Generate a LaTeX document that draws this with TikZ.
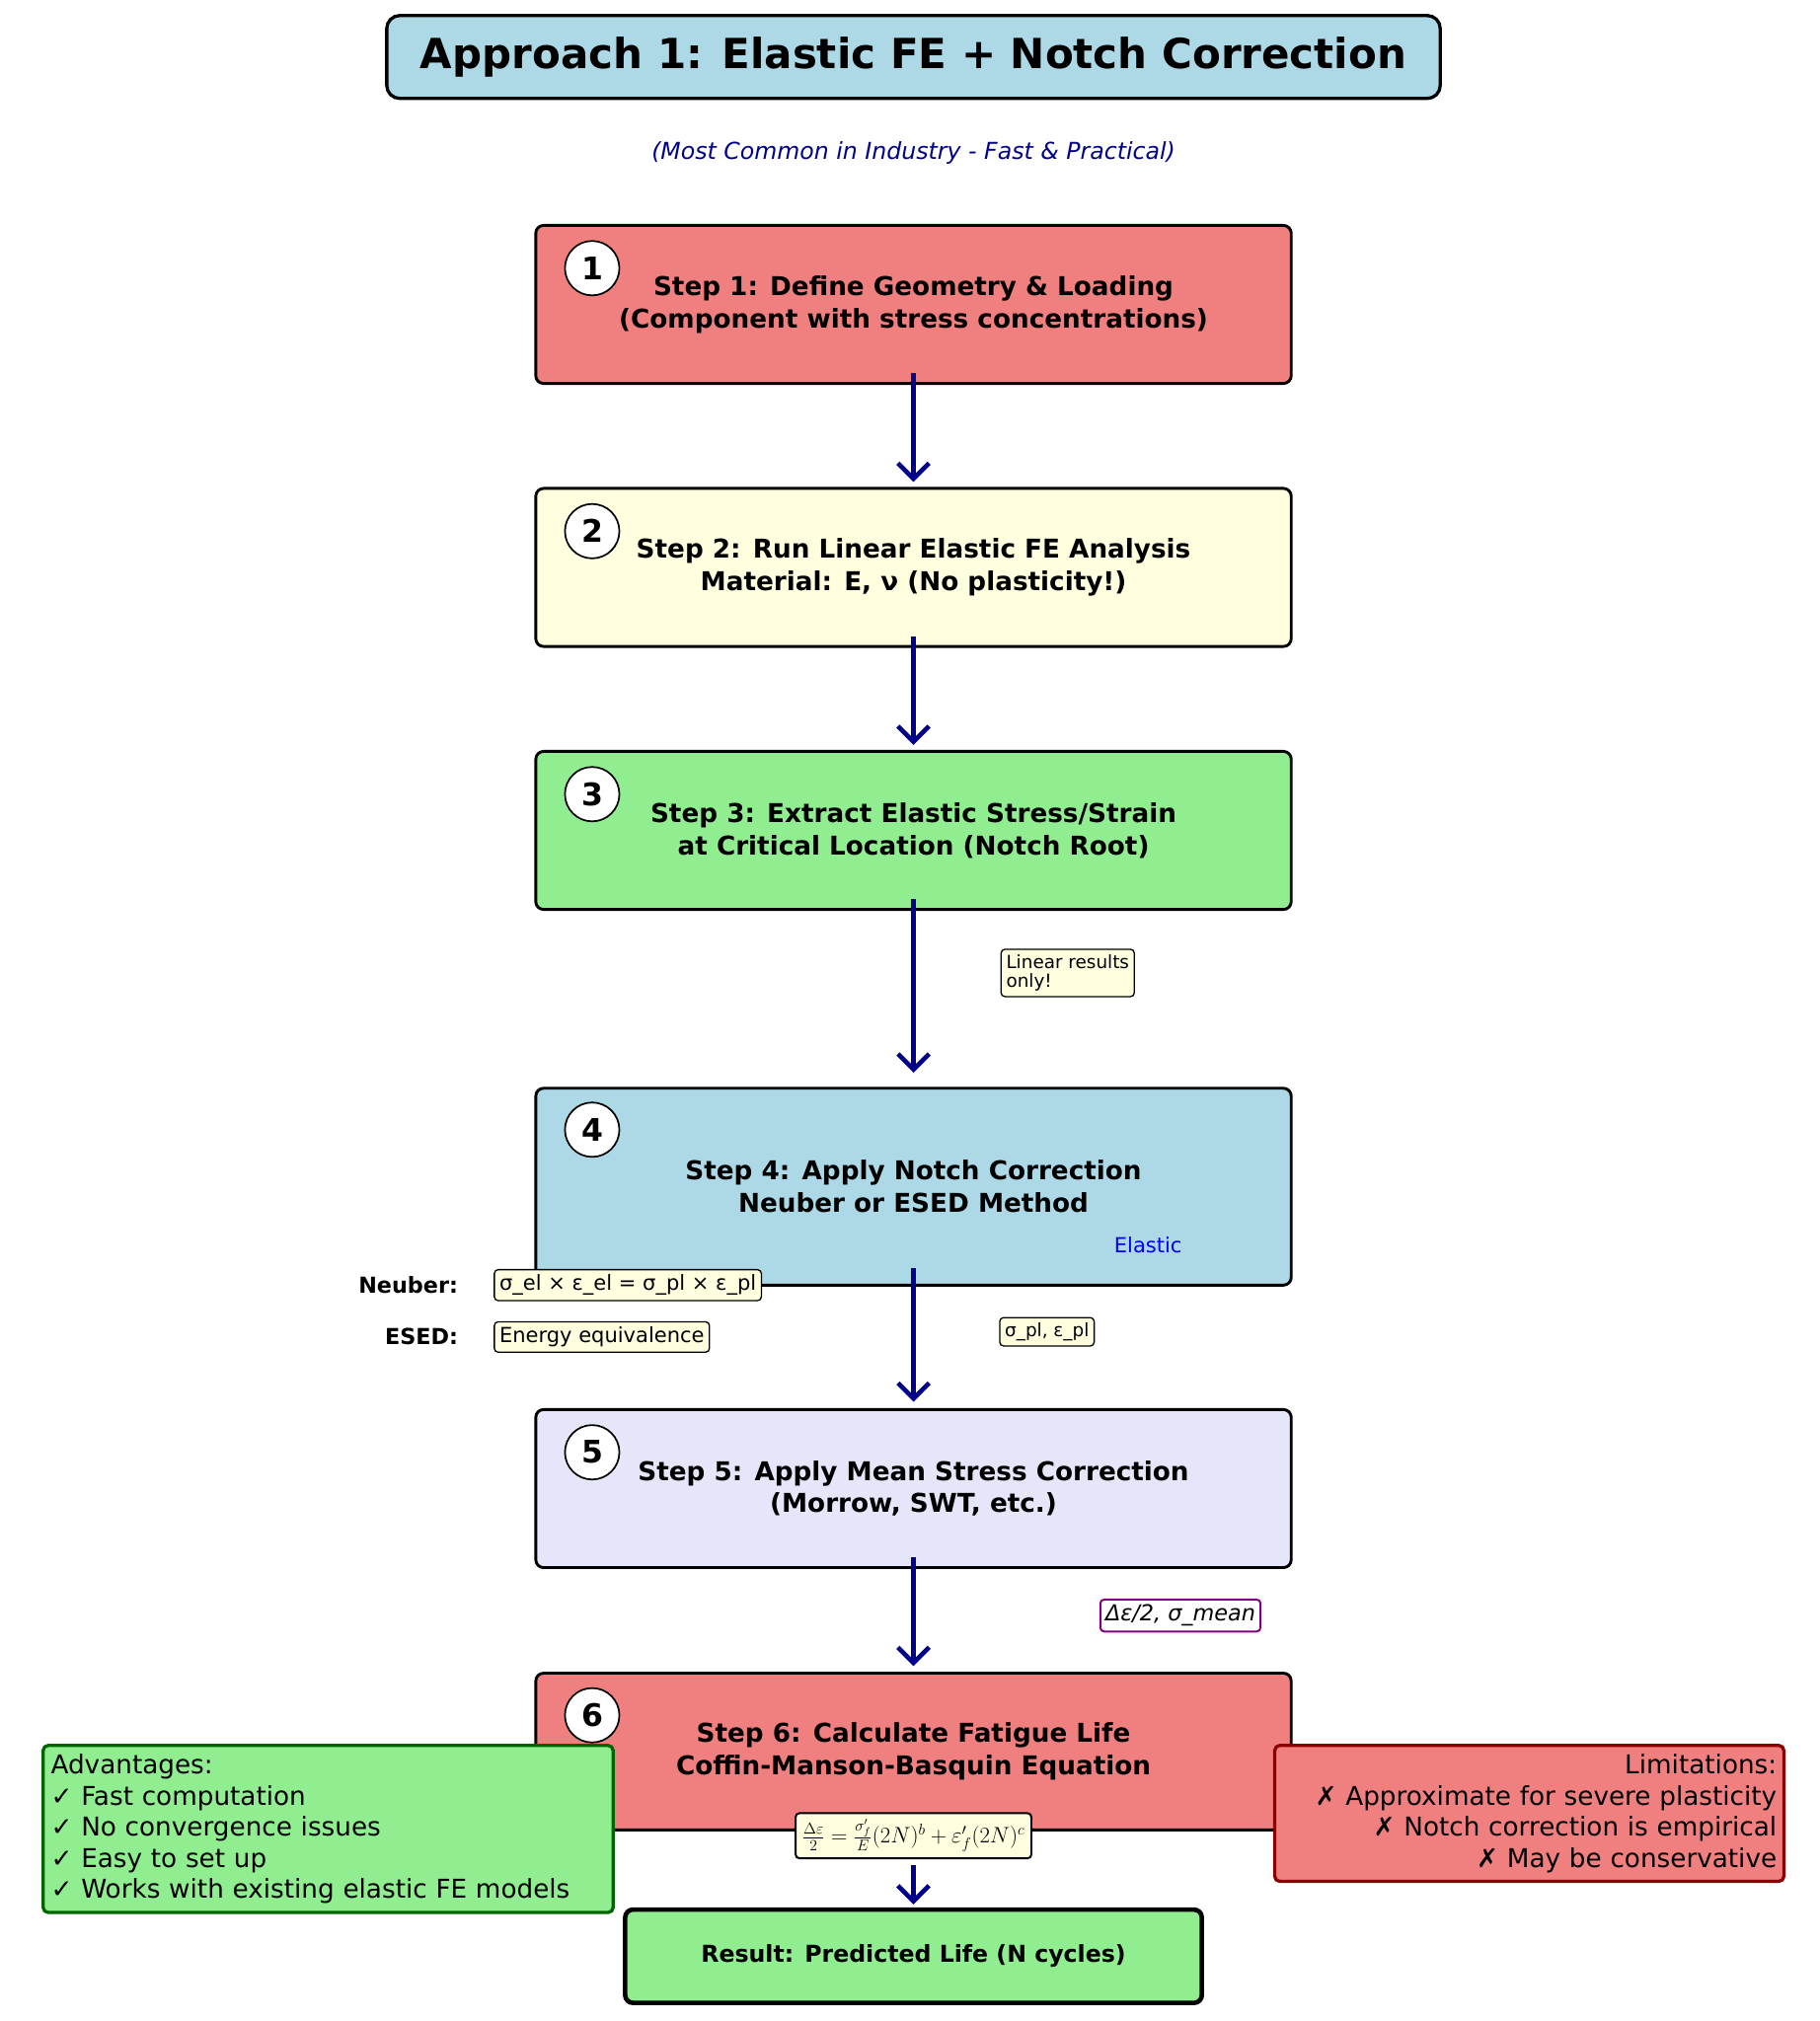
\documentclass[tikz,border=0pt]{standalone}
\usepackage{fontspec}
\setmainfont{DejaVu Sans}
\usetikzlibrary{arrows.meta}
\definecolor{lcoral}{RGB}{240,128,128}
\definecolor{lyellow}{RGB}{255,255,224}
\definecolor{lgreen}{RGB}{144,238,144}
\definecolor{lblue}{RGB}{173,216,230}
\definecolor{lav}{RGB}{230,230,250}
\definecolor{navyc}{RGB}{0,0,139}
\definecolor{dgreen}{RGB}{0,100,0}
\definecolor{dred}{RGB}{139,0,0}
\definecolor{purp}{RGB}{128,0,128}
\begin{document}
\begin{tikzpicture}[x=1pt,y=-1pt,
 stepbox/.style={draw=black,line width=2.2pt,rounded corners=6pt,minimum width=583pt,align=center,font=\fontsize{20}{25}\selectfont\bfseries},
 num/.style={circle,draw=black,fill=white,line width=1.3pt,minimum size=42pt,inner sep=0pt,font=\fontsize{24}{24}\selectfont\bfseries},
 arr/.style={draw=navyc,line width=3.5pt,-{Straight Barb[length=12pt,width=24pt,line width=3.5pt]}},
 lab/.style={draw=black,line width=1pt,fill=lyellow,rounded corners=3pt,inner sep=4pt,font=\fontsize{14}{15}\selectfont}]
\useasboundingbox (0,0) rectangle (1404,1560);
\node[draw=black,line width=2.5pt,fill=lblue,rounded corners=10pt,minimum width=813pt,minimum height=64pt,font=\fontsize{32}{36}\selectfont\bfseries] (title) at (705,44) {Approach 1: Elastic FE + Notch Correction};
\node[text=navyc,font=\fontsize{18}{20}\selectfont\itshape] (sub) at (705,118) {(Most Common in Industry - Fast \& Practical)};
\node[stepbox,fill=lcoral,minimum height=122pt] (s1) at (705,235) {Step 1: Define Geometry \& Loading\\(Component with stress concentrations)};
\node[stepbox,fill=lyellow,minimum height=122pt] (s2) at (705,438) {Step 2: Run Linear Elastic FE Analysis\\Material: E, ν (No plasticity!)};
\node[stepbox,fill=lgreen,minimum height=122pt] (s3) at (705,641) {Step 3: Extract Elastic Stress/Strain\\at Critical Location (Notch Root)};
\node[stepbox,fill=lblue,minimum height=152pt] (s4) at (705,916) {Step 4: Apply Notch Correction\\Neuber or ESED Method};
\node[stepbox,fill=lav,minimum height=122pt] (s5) at (705,1149) {Step 5: Apply Mean Stress Correction\\(Morrow, SWT, etc.)};
\node[stepbox,fill=lcoral,minimum height=121pt] (s6) at (705,1352) {Step 6: Calculate Fatigue Life\\Coffin-Manson-Basquin Equation};
\node[stepbox,fill=lgreen,line width=3.5pt,minimum width=445pt,minimum height=72pt,font=\fontsize{18}{22}\selectfont\bfseries] (res) at (705,1510) {Result: Predicted Life (N cycles)};
\node[num] (n1) at (457,207) {1};
\node[num] (n2) at (457,410) {2};
\node[num] (n3) at (457,613) {3};
\node[num] (n4) at (457,872) {4};
\node[num] (n5) at (457,1121) {5};
\node[num] (n6) at (457,1324) {6};
\coordinate (a1) at (705,288); \coordinate (b1) at (705,372);
\coordinate (a2) at (705,491); \coordinate (b2) at (705,575);
\coordinate (a3) at (705,694); \coordinate (b3) at (705,828);
\coordinate (a4) at (705,979); \coordinate (b4) at (705,1082);
\coordinate (a5) at (705,1202); \coordinate (b5) at (705,1286);
\coordinate (a6) at (705,1440); \coordinate (b6) at (705,1470);
\draw[arr] (a1) -- (b1);
\draw[arr] (a2) -- (b2);
\draw[arr] (a3) -- (b3);
\draw[arr] (a4) -- (b4);
\draw[arr] (a5) -- (b5);
\draw[arr] (a6) -- (b6);
\node[lab,align=left,font=\fontsize{14}{15}\selectfont] (lin) at (824,751) {Linear results\\only!};
\node[text=blue,font=\fontsize{16}{18}\selectfont] (el) at (886,961) {Elastic};
\node[anchor=east,font=\fontsize{17}{18}\selectfont\bfseries] (neu) at (357,992) {Neuber:};
\node[lab,anchor=west,font=\fontsize{16}{18}\selectfont] (neub) at (381,992) {σ\_el × ε\_el = σ\_pl × ε\_pl};
\node[anchor=east,font=\fontsize{17}{18}\selectfont\bfseries] (es) at (357,1032) {ESED:};
\node[lab,anchor=west,font=\fontsize{16}{18}\selectfont] (esb) at (381,1032) {Energy equivalence};
\node[lab,font=\fontsize{14}{15}\selectfont] (spl) at (808,1028) {σ\_pl, ε\_pl};
\node[lab,draw=purp,line width=1.5pt,fill=white,font=\fontsize{17}{18}\selectfont\itshape] (de) at (911,1247) {Δε/2, σ\_mean};
\node[lab,line width=1.5pt,inner sep=5pt,font=\fontsize{17}{18}\selectfont] (form) at (705,1417) {$\frac{\Delta\varepsilon}{2}=\frac{\sigma'_f}{E}(2N)^b+\varepsilon'_f(2N)^c$};
\node[draw=dgreen,line width=2.5pt,fill=lgreen,rounded corners=4pt,align=left,anchor=north west,minimum width=440pt,minimum height=129pt,text width=428pt,inner sep=5pt,font=\fontsize{20}{24}\selectfont] (adv) at (32,1346) {Advantages:\\✓ Fast computation\\✓ No convergence issues\\✓ Easy to set up\\✓ Works with existing elastic FE models};
\node[draw=dred,line width=2.5pt,fill=lcoral,rounded corners=4pt,align=right,anchor=north east,minimum width=393pt,minimum height=105pt,text width=382pt,inner sep=5pt,font=\fontsize{20}{24}\selectfont] (lim) at (1378,1346) {Limitations:\\✗ Approximate for severe plasticity\\✗ Notch correction is empirical\\✗ May be conservative};
\end{tikzpicture}
\end{document}
